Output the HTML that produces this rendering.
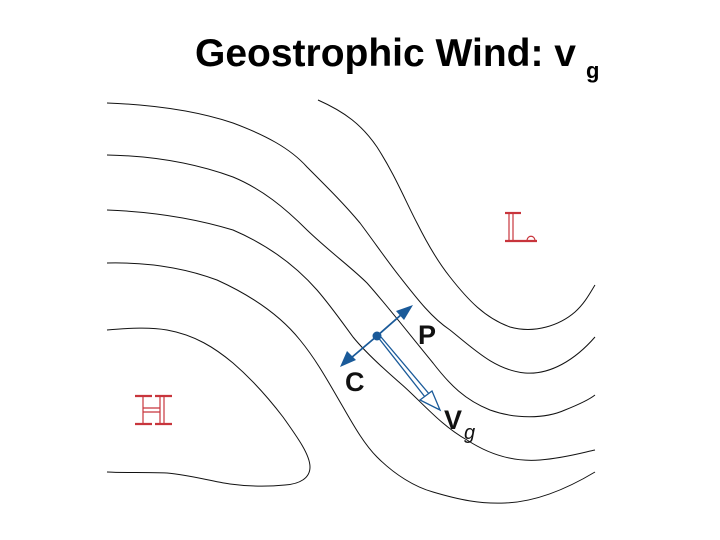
<!DOCTYPE html>
<html><head><meta charset="utf-8"><style>
html,body{margin:0;padding:0;background:#fff;width:720px;height:540px;overflow:hidden}
</style></head><body>
<svg width="720" height="540" viewBox="0 0 720 540" xmlns="http://www.w3.org/2000/svg">
<text x="195" y="66" font-family="Liberation Sans, Arial, sans-serif" font-weight="bold" font-size="39" fill="#000">Geostrophic Wind: v</text>
<text x="586" y="78" font-family="Liberation Sans, Arial, sans-serif" font-weight="bold" font-size="22" fill="#000">g</text>
<g fill="none" stroke="#111" stroke-width="1">
<path d="M318,100 C345,112 362,125 377,147 C395,175 405,200 417,223 C428,245 438,262 450,277 C468,300 485,318 510,327 C535,334 560,325 575,312 C585,303 590,293 595,285"/>
<path d="M107,103 C160,105 200,112 233,123 C265,135 290,148 307,167 C330,190 345,205 360,223 C375,243 388,262 400,277 C418,300 432,318 450,330 C475,350 495,370 525,373 C550,375 575,360 595,337"/>
<path d="M107,155 C160,156 200,165 233,177 C262,189 285,208 307,230 C330,252 352,268 367,283 C385,303 410,335 433,363 C450,385 465,400 490,410 C515,419 545,419 565,410 C580,404 590,399 595,395"/>
<path d="M107,210 C160,212 200,220 233,230 C268,245 295,265 317,290 C330,305 342,322 353,337 C366,353 385,370 400,383 C420,400 440,425 467,440 C490,455 515,462 540,460 C565,458 585,452 595,450"/>
<path d="M107,263 C150,262 185,268 217,280 C250,295 280,315 300,340 C318,362 330,385 343,407 C355,428 365,445 377,457 C395,475 415,487 433,492 C460,500 480,504 505,503 C535,502 565,490 595,472"/>
<path d="M107,330 C130,328 150,327 167,330 C195,335 215,348 233,363 C255,382 270,400 283,417 C298,438 310,455 310,467 C310,478 300,484 285,485 C265,487 245,486 230,484 C210,481 190,475 167,473 C145,472 125,473 107,472"/>
</g>
<g stroke="#1a5a99" fill="#1a5a99">
<line x1="377" y1="336" x2="402" y2="314" stroke-width="1.8"/>
<polygon points="413,305 396,311 404,320" stroke="none"/>
<line x1="377" y1="336" x2="351" y2="358" stroke-width="1.8"/>
<polygon points="340,367 347,351 356,360" stroke="none"/>
<circle cx="377" cy="336" r="4.5" stroke="none"/>
<line x1="377" y1="336" x2="425" y2="397" stroke-width="1.3"/>
<line x1="381" y1="337" x2="430" y2="395" stroke-width="1.3"/>
<polygon points="440,410 420,400 432,391" fill="#fff" stroke-width="1.3"/>
</g>
<g font-family="Liberation Sans, Arial, sans-serif" font-weight="bold" fill="#111">
<text x="418" y="344" font-size="27">P</text>
<text x="345" y="391" font-size="27">C</text>
<text x="444" y="429" font-size="27">V</text>
</g>
<text x="464" y="439" font-family="Liberation Sans, Arial, sans-serif" font-style="italic" font-size="20" fill="#111">g</text>
<g stroke="#c8353c" fill="none">
<line x1="135" y1="396" x2="152" y2="396" stroke-width="2.2"/>
<line x1="155" y1="396" x2="172" y2="396" stroke-width="2.2"/>
<line x1="135" y1="424" x2="152" y2="424" stroke-width="2.2"/>
<line x1="155" y1="424" x2="172" y2="424" stroke-width="2.2"/>
<line x1="143" y1="396" x2="143" y2="424" stroke-width="1.2"/>
<line x1="160" y1="396" x2="160" y2="424" stroke-width="1.2"/>
<line x1="164" y1="396" x2="164" y2="424" stroke-width="1.2"/>
<line x1="143" y1="408" x2="160" y2="408" stroke-width="1.2"/>
<line x1="143" y1="412" x2="160" y2="412" stroke-width="1.2"/>
</g>
<g stroke="#c8353c" fill="none">
<line x1="505" y1="213" x2="521" y2="213" stroke-width="2.2"/>
<line x1="509" y1="213" x2="509" y2="241" stroke-width="1.2"/>
<line x1="513" y1="213" x2="513" y2="241" stroke-width="1.2"/>
<line x1="505" y1="241" x2="537" y2="241" stroke-width="2.2"/>
<path d="M527,240 C528,235 534,235 535,240" stroke-width="1.2"/>
</g>
</svg>
</body></html>
